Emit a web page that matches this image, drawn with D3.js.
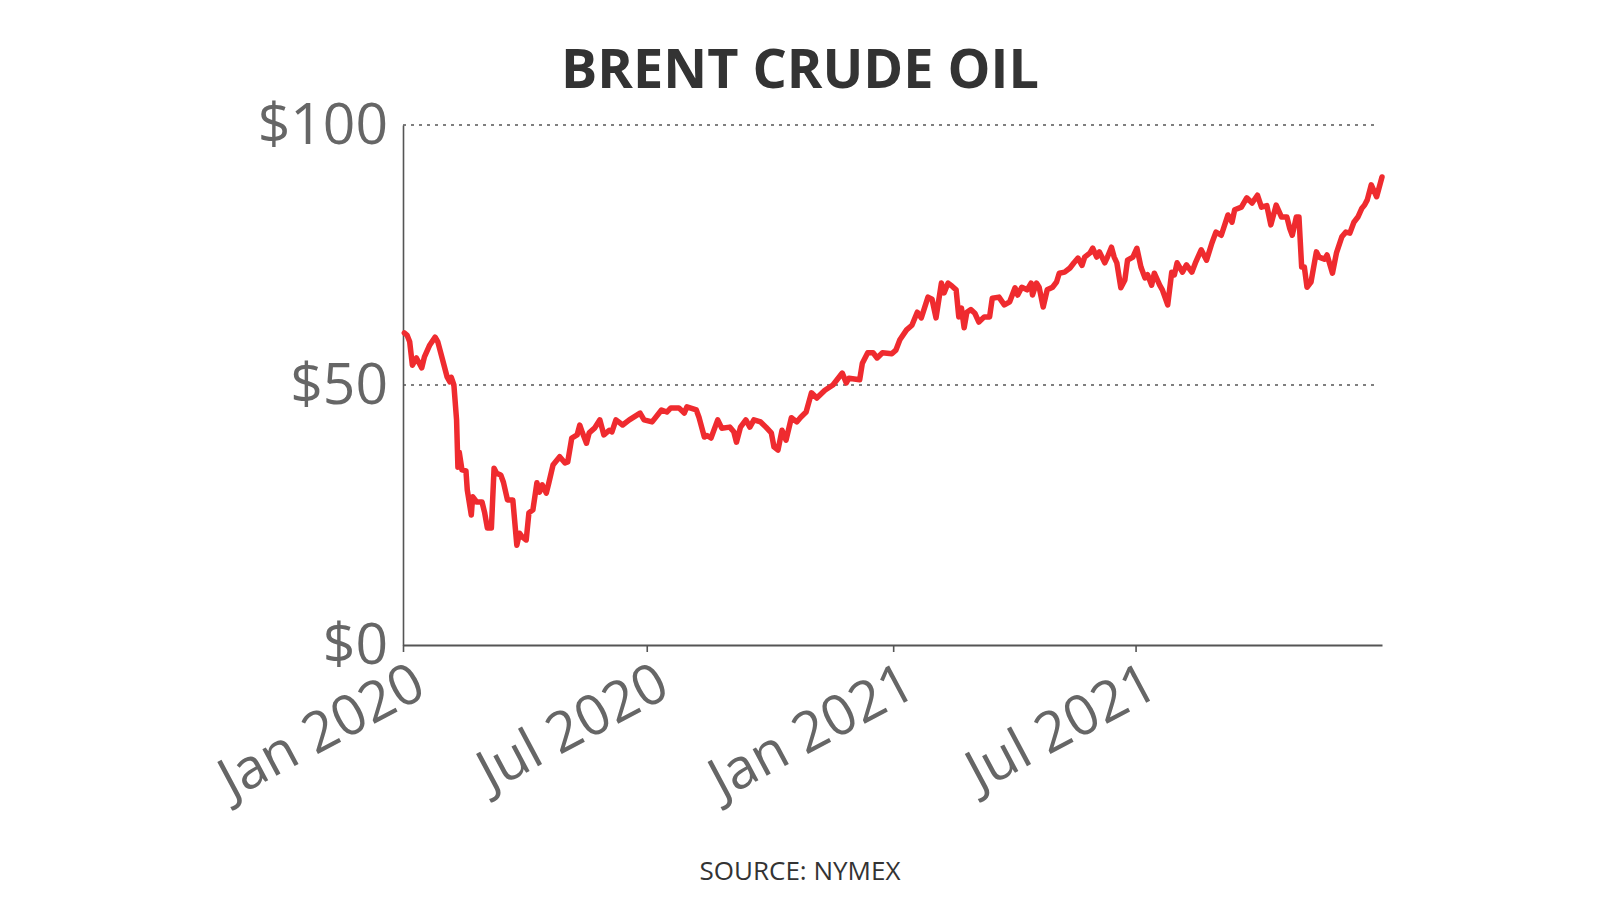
<!DOCTYPE html>
<html>
<head>
<meta charset="utf-8">
<script src="https://cdn.jsdelivr.net/npm/d3@7"></script>
<style>
  body { margin: 0; background: #fff; }
  text { font-family: "Open Sans", sans-serif; }
</style>
</head>
<body>
<svg id="chart" width="1600" height="900"></svg>
<script>
// Brent crude, USD per barrel
const dates = [
  "2020-01-02","2020-01-04","2020-01-06","2020-01-08","2020-01-11","2020-01-15","2020-01-17","2020-01-21",
  "2020-01-25","2020-01-27","2020-01-30","2020-02-03","2020-02-05","2020-02-06","2020-02-08","2020-02-10",
  "2020-02-11","2020-02-12","2020-02-14","2020-02-17","2020-02-18","2020-02-21","2020-02-22","2020-02-25",
  "2020-02-29","2020-03-02","2020-03-04","2020-03-07","2020-03-09","2020-03-11","2020-03-14","2020-03-16",
  "2020-03-19","2020-03-23","2020-03-26","2020-03-28","2020-03-30","2020-04-02","2020-04-04","2020-04-07",
  "2020-04-10","2020-04-12","2020-04-14","2020-04-17","2020-04-19","2020-04-22","2020-04-27","2020-05-01",
  "2020-05-03","2020-05-06","2020-05-10","2020-05-12","2020-05-14","2020-05-17","2020-05-19","2020-05-23",
  "2020-05-27","2020-05-30","2020-06-03","2020-06-05","2020-06-08","2020-06-13","2020-06-18","2020-06-26",
  "2020-06-29","2020-07-05","2020-07-12","2020-07-16","2020-07-19","2020-07-25","2020-07-29","2020-07-31",
  "2020-08-07","2020-08-09","2020-08-13","2020-08-15","2020-08-18","2020-08-23","2020-08-26","2020-09-01",
  "2020-09-04","2020-09-06","2020-09-09","2020-09-13","2020-09-16","2020-09-19","2020-09-24","2020-09-28",
  "2020-10-02","2020-10-04","2020-10-07","2020-10-10","2020-10-13","2020-10-17","2020-10-21","2020-10-24",
  "2020-10-28","2020-11-01","2020-11-05","2020-11-11","2020-11-17","2020-11-24","2020-11-27","2020-11-29",
  "2020-12-07","2020-12-09","2020-12-13","2020-12-17","2020-12-20","2020-12-24","2020-12-31","2021-01-03",
  "2021-01-06","2021-01-11","2021-01-15","2021-01-19","2021-01-22","2021-01-27","2021-01-30","2021-02-02",
  "2021-02-06","2021-02-08","2021-02-11","2021-02-14","2021-02-17","2021-02-19","2021-02-21","2021-02-23",
  "2021-02-25","2021-02-28","2021-03-03","2021-03-06","2021-03-10","2021-03-14","2021-03-16","2021-03-21",
  "2021-03-25","2021-03-29","2021-04-02","2021-04-04","2021-04-07","2021-04-11","2021-04-14","2021-04-15",
  "2021-04-18","2021-04-20","2021-04-23","2021-04-26","2021-04-30","2021-05-03","2021-05-05","2021-05-09",
  "2021-05-13","2021-05-16","2021-05-19","2021-05-22","2021-05-24","2021-05-28","2021-05-30","2021-06-02",
  "2021-06-04","2021-06-08","2021-06-10","2021-06-13","2021-06-15","2021-06-17","2021-06-20","2021-06-23",
  "2021-06-25","2021-06-29","2021-07-02","2021-07-05","2021-07-08","2021-07-10","2021-07-13","2021-07-15",
  "2021-07-19","2021-07-21","2021-07-25","2021-07-28","2021-07-30","2021-08-01","2021-08-05","2021-08-08",
  "2021-08-12","2021-08-15","2021-08-19","2021-08-23","2021-08-27","2021-08-30","2021-09-03","2021-09-08",
  "2021-09-11","2021-09-13","2021-09-18","2021-09-22","2021-09-26","2021-09-30","2021-10-03","2021-10-07",
  "2021-10-10","2021-10-14","2021-10-18","2021-10-22","2021-10-24","2021-10-26","2021-10-29","2021-10-31",
  "2021-11-02","2021-11-04","2021-11-06","2021-11-09","2021-11-13","2021-11-15","2021-11-19","2021-11-21",
  "2021-11-25","2021-11-28","2021-12-02","2021-12-05","2021-12-08","2021-12-11","2021-12-14","2021-12-17",
  "2021-12-19","2021-12-21","2021-12-24","2021-12-28","2022-01-01"
];
const prices = [
  60.0, 59.6, 58.3, 53.8, 55.2, 53.3, 55.4, 57.7,
  59.2, 58.3, 55.4, 51.5, 50.6, 51.5, 50.0, 43.3,
  34.2, 37.1, 33.7, 33.5, 29.8, 25.0, 28.5, 27.5,
  27.5, 25.4, 22.5, 22.5, 34.0, 33.0, 32.7, 31.3,
  27.9, 27.9, 19.2, 21.5, 20.8, 20.2, 25.4, 26.0,
  31.2, 29.4, 30.8, 29.2, 31.3, 34.6, 36.2, 35.0,
  35.2, 39.8, 40.4, 42.3, 40.8, 38.8, 40.8, 41.7,
  43.3, 40.4, 41.3, 41.0, 43.3, 42.3, 43.3, 44.6,
  43.3, 42.9, 45.2, 44.8, 45.6, 45.6, 44.6, 45.8,
  45.2, 43.8, 40.0, 40.3, 39.8, 43.3, 41.7, 41.9,
  41.0, 39.0, 41.9, 43.3, 41.9, 43.3, 42.9, 41.9,
  40.8, 38.1, 37.5, 41.3, 39.4, 43.7, 42.9, 43.8,
  44.8, 48.5, 47.5, 49.0, 50.0, 52.3, 50.4, 51.3,
  51.0, 54.2, 56.2, 56.2, 55.2, 56.2, 56.0, 56.7,
  58.7, 60.6, 61.5, 64.0, 62.9, 66.9, 66.5, 62.9,
  69.6, 67.7, 69.6, 69.0, 68.3, 63.1, 64.8, 61.0,
  64.0, 64.5, 63.8, 62.1, 63.1, 63.1, 66.7, 66.9,
  65.4, 66.0, 68.7, 67.3, 68.8, 68.3, 69.6, 67.3,
  69.6, 68.8, 65.0, 68.3, 68.8, 69.8, 71.5, 71.7,
  72.5, 73.5, 74.4, 73.0, 74.6, 75.4, 76.3, 74.6,
  75.6, 73.5, 74.6, 76.5, 74.6, 73.5, 68.7, 70.2,
  74.0, 74.6, 76.3, 72.7, 70.6, 71.2, 69.2, 71.5,
  69.2, 68.3, 65.4, 71.7, 71.2, 73.5, 71.7, 73.1,
  71.7, 73.7, 76.0, 74.0, 77.3, 79.4, 78.8, 82.7,
  81.3, 83.7, 84.2, 86.0, 85.0, 86.5, 84.2, 84.5,
  80.8, 84.6, 82.3, 82.3, 80.2, 78.8, 82.3, 82.3,
  72.7, 72.7, 68.8, 69.8, 75.6, 74.6, 74.2, 75.0,
  71.5, 75.4, 78.5, 79.4, 79.2, 81.3, 82.3, 84.0,
  84.6, 85.6, 88.5, 86.2, 90.0
];
const yTicks = [0, 50, 100];
const xTicks = ["2020-01-01", "2020-07-01", "2021-01-01", "2021-07-01"];
const xTickLabels = ["Jan 2020", "Jul 2020", "Jan 2021", "Jul 2021"];
const xDomain = ["2020-01-01", "2022-01-01"];

const parse = d3.timeParse("%Y-%m-%d");
const data = dates.map((d, i) => ({date: parse(d), value: prices[i]}));

const margin = {top: 125, right: 218, bottom: 255, left: 403};
const width = 1600, height = 900;

const svg = d3.select("#chart");

const x = d3.scaleTime()
    .domain(xDomain.map(parse))
    .range([margin.left, width - margin.right]);

const y = d3.scaleLinear()
    .domain([0, 100])
    .range([height - margin.bottom, margin.top]);

// title
svg.append("text")
    .attr("x", 800)
    .attr("y", 88)
    .attr("text-anchor", "middle")
    .attr("font-size", 54)
    .attr("font-weight", 700)
    .attr("fill", "#333")
    .text("BRENT CRUDE OIL");

// dotted gridlines
svg.append("g")
  .selectAll("line")
  .data(yTicks.filter(d => d > 0))
  .join("line")
    .attr("x1", margin.left)
    .attr("x2", width - margin.right - 6)
    .attr("y1", d => y(d))
    .attr("y2", d => y(d))
    .attr("stroke", "#555")
    .attr("stroke-width", 1.6)
    .attr("stroke-dasharray", "3,5");

// y axis
const yAxis = svg.append("g")
    .attr("transform", `translate(${margin.left},0)`)
    .call(d3.axisLeft(y).tickValues(yTicks).tickSize(0).tickPadding(15).tickFormat(d => "$" + d));
yAxis.select(".domain").attr("stroke", "#555").attr("stroke-width", 1.6);
yAxis.selectAll("text")
    .attr("font-family", "Open Sans, sans-serif")
    .attr("font-size", 57)
    .attr("fill", "#666")
    .attr("dy", "0.33em");

// x axis
const xAxis = svg.append("g")
    .attr("transform", `translate(0,${y(0)})`)
    .call(d3.axisBottom(x).tickValues(xTicks.map(parse)).tickSizeInner(7).tickSizeOuter(0)
      .tickFormat((d, i) => xTickLabels[i]));
xAxis.select(".domain").attr("stroke", "#555").attr("stroke-width", 2);
xAxis.selectAll(".tick line").attr("stroke", "#555").attr("stroke-width", 1.6);
xAxis.selectAll("text")
    .attr("font-family", "Open Sans, sans-serif")
    .attr("font-size", 56)
    .attr("fill", "#666")
    .attr("text-anchor", "end")
    .attr("dy", 0)
    .attr("y", 0)
    .attr("transform", "translate(25,50) rotate(-28)");

// price line
const line = d3.line()
    .x(d => x(d.date))
    .y(d => y(d.value))
    .curve(d3.curveLinear);

svg.append("path")
    .datum(data)
    .attr("fill", "none")
    .attr("stroke", "#ef2b2f")
    .attr("stroke-width", 5.5)
    .attr("stroke-linejoin", "round")
    .attr("stroke-linecap", "round")
    .attr("d", line);

// source
svg.append("text")
    .attr("x", 800)
    .attr("y", 880)
    .attr("text-anchor", "middle")
    .attr("font-size", 26)
    .attr("fill", "#333")
    .text("SOURCE: NYMEX");
</script>
</body>
</html>
